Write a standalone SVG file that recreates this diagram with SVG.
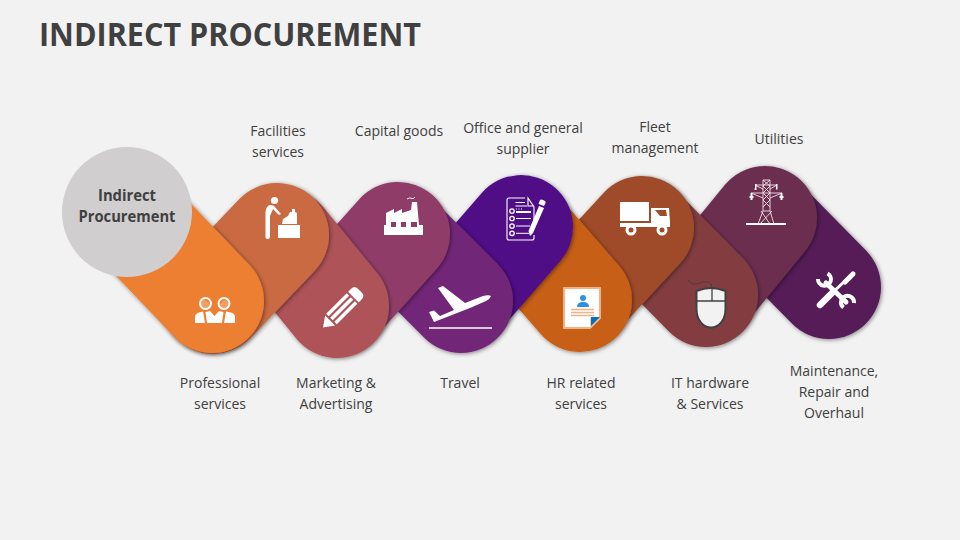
<svg xmlns="http://www.w3.org/2000/svg" width="960" height="540" viewBox="0 0 960 540">
<defs>
<filter id="sh" filterUnits="userSpaceOnUse" x="0" y="0" width="960" height="540"><feDropShadow dx="1" dy="1" stdDeviation="2" flood-color="#000" flood-opacity="0.45"/></filter>
</defs>
<style>
text{font-family:"Open Sans","Liberation Sans",sans-serif;fill:#404040;font-size:14px;text-anchor:middle}
.title{font-size:33px;font-weight:700;text-anchor:start;fill:#404040}
.hub{font-size:16px;font-weight:700}
.pill{fill:none;stroke-width:104;stroke-linecap:round;filter:url(#sh)}
.ic{fill:#fff}
.ln{fill:none;stroke:#fff}
</style>
<rect width="960" height="540" fill="#f2f2f2"/>
<text class="title" x="39" y="46" textLength="382" lengthAdjust="spacingAndGlyphs">INDIRECT PROCUREMENT</text>

<g id="maintenance">
<line class="pill" x1="765" y1="222" x2="829" y2="287" stroke="#551c58"/>
<path class="ln" stroke-width="5" stroke-linecap="round" d="M826 283L846 302"/>
<path class="ln" stroke-width="4" d="M827.500 273.500A6.500 6.500 0 1 1 818 279"/>
<path class="ln" stroke-width="4" d="M843.500 307.500A6.500 6.500 0 1 1 854 303"/>
<path class="ln" stroke-width="6.500" stroke-linecap="round" d="M820 305L832 293"/>
<path class="ln" stroke-width="3" d="M830 295L846 280"/>
<path class="ln" stroke-width="5" stroke-linecap="round" d="M845 282L853 274"/>
<text x="834" y="376">Maintenance,</text><text x="834" y="397">Repair and</text><text x="834" y="418">Overhaul</text>
</g>

<g id="utilities">
<line class="pill" x1="706" y1="290" x2="765" y2="218" stroke="#6c2e50"/>
<path class="ln" stroke-width="1.800" d="M746 224H786"/>
<path fill="none" stroke="#f3dfe6" stroke-width="0.900" d="M763 180H770M763 180V211L758 224M770 180V211L774 224M763 211H770M763 186L770 193L763 200L770 207M770 186L763 193L770 200L763 207M763 180L770 186M770 180L763 186M755 185H777M751 193H782M755 185L763 189M777 185L770 189M751 193L763 198M782 193L770 198M761 211L770 224M772 211L760 224"/>
<path class="ic" d="M755 184h1.500v6h-2v-1.500h.500zM776 184h1.500v5.500h-1.500zM750.500 193h2v3h1v2h-1v2h-2v-2h-1v-2h1zM780.500 193h2v3h1v2h-1v2h-2v-2h-1v-2h1z"/>
<text x="779" y="144">Utilities</text>
</g>

<g id="it-hardware">
<line class="pill" x1="642" y1="230" x2="706" y2="295" stroke="#833d40"/>
<path d="M696.500 291Q711 285 725.500 291V309C725.500 320 719 327.500 711 327.500C703 327.500 696.500 320 696.500 309Z" fill="#f2f2f2" stroke="#404040" stroke-width="2"/>
<path d="M712 288V301M696.500 301H725.500" fill="none" stroke="#404040" stroke-width="1.300"/>
<path d="M688 280Q691 285 697 284Q703 281 708 282Q712 283 712 288" fill="none" stroke="#404040" stroke-width="1"/>
<text x="710" y="388">IT hardware</text><text x="710" y="409">&amp; Services</text>
</g>

<g id="fleet">
<line class="pill" x1="580" y1="295" x2="642" y2="228" stroke="#9f4c2a"/>
<path class="ic" d="M620 202H649V221H620ZM651 208H669L670 222V227H620V223H651Z"/>
<path d="M655 210H666L667 216H660Z" fill="#9f4c2a"/>
<circle class="ic" cx="631" cy="230" r="5.500"/><circle cx="631" cy="230" r="2.500" fill="#9f4c2a"/>
<circle class="ic" cx="662" cy="230" r="5.500"/><circle cx="662" cy="230" r="2.500" fill="#9f4c2a"/>
<text x="655" y="132">Fleet</text><text x="655" y="153">management</text>
</g>

<g id="hr">
<line class="pill" x1="521" y1="232" x2="580" y2="300" stroke="#c75f14"/>
<path d="M564 288H600V318L590 328H564Z" fill="#fff" stroke="#f4b183" stroke-width="2"/>
<path d="M590 328V318H600Z" fill="#f8cbad"/><path d="M591 317H600L591 326Z" fill="#0070c0"/>
<circle cx="583" cy="298" r="3" fill="#2e8fe6"/><path d="M577 307Q577 302 583 302Q589 302 589 307Z" fill="#2e8fe6"/>
<path d="M571 309.500H594M571 312.500H594M571 315.500H594" stroke="#f4b183" stroke-width="1.600" fill="none"/>
<text x="581" y="388">HR related</text><text x="581" y="409">services</text>
</g>

<g id="office">
<line class="pill" x1="461" y1="296" x2="521" y2="227" stroke="#500f86"/>
<path class="ln" stroke-width="1.100" d="M525 198H509Q507 198 507 200V238Q507 240 509 240H532Q534 240 534 238V235M534 224V207L528 198V206H534"/>
<g fill="none" stroke="#fff" stroke-width="1.300"><circle cx="512" cy="211" r="2.200"/><circle cx="512" cy="218.500" r="2.200"/><circle cx="512" cy="226" r="2.200"/><circle cx="512" cy="233.300" r="2.200"/></g>
<path class="ln" stroke-width="1" d="M515.500 202.500H525M515.500 206H527M516 218.500H531M516 226H530M516 233.300H529"/>
<path class="ln" stroke-width="2" d="M516 212H531"/>
<path class="ln" stroke-width="1" stroke-dasharray="1 1.500" d="M516 209H523"/>
<path class="ic" d="M539 206L544 208L533 233L530 236L528.500 231Z"/>
<path class="ic" d="M538.500 204L540 200Q541 199 543 200L545 201Q546 202 545.500 203L544 206Z"/>
<text x="523" y="133">Office and general</text><text x="523" y="154">supplier</text>
</g>

<g id="travel">
<line class="pill" x1="398" y1="238" x2="461" y2="301" stroke="#722878"/>
<path class="ic" d="M491 296Q490 299 486 301L470 308L434 322L433 320L429 312L434 310.500L440 316L454 310L438 288L443 286L465 303L483 296Q489 294.500 491 296Z"/>
<path class="ln" stroke-width="1.500" d="M429 328H492"/>
<text x="460" y="388">Travel</text>
</g>

<g id="capital">
<line class="pill" x1="337" y1="302" x2="398" y2="234" stroke="#8f3c67"/>
<path class="ic" d="M384 235V225H386V213L394 209V213L402 209V213L411 210L412 202H417L419 225H423V235Z"/>
<path d="M391 222H396V227H391ZM401 222H406V227H401ZM411 222H417V227H411Z" fill="#8f3c67"/>
<path class="ln" stroke-width="0.900" d="M407 199Q410 197 412 198.500Q414 199 415 197"/>
<text x="399" y="136">Capital goods</text>
</g>

<g id="marketing">
<line class="pill" x1="283" y1="240" x2="337" y2="306" stroke="#ae5258"/>
<g transform="translate(323 327.500) rotate(-45)">
<path class="ic" d="M0 0L10 -7V7Z"/>
<rect class="ic" x="12" y="-7.500" width="29" height="3.500"/><rect class="ic" x="12" y="-1.800" width="29" height="3.600"/><rect class="ic" x="12" y="4" width="29" height="3.500"/>
<path class="ic" d="M43 -7.500H47Q52 -7.500 52 -3V3Q52 7.500 47 7.500H43Z"/>
</g>
<text x="336" y="388">Marketing &amp;</text><text x="336" y="409">Advertising</text>
</g>

<g id="facilities">
<line class="pill" x1="213" y1="302" x2="277" y2="235" stroke="#c96a42"/>
<circle class="ic" cx="274.500" cy="200.500" r="3.600"/>
<path class="ic" d="M270 205Q266 206 265.500 212V237Q265.500 239 267.500 239Q270 239 270 237V216L273 209L279 215L281 214L274 206Q272 205 270 205Z"/>
<rect class="ic" x="278" y="225" width="22" height="13"/>
<path class="ic" d="M282 224L283 219L288 216L290 212L292 212V209H295V212L297 213V224Z"/>
<text x="278" y="136">Facilities</text><text x="278" y="157">services</text>
</g>

<g id="professional">
<line class="pill" x1="127" y1="212" x2="212" y2="301" stroke="#ed7f33"/>
<circle cx="205.500" cy="303.500" r="5.500" fill="none" stroke="#fff" stroke-width="2"/>
<circle cx="224" cy="303.500" r="5.500" fill="none" stroke="#fff" stroke-width="2"/>
<path class="ic" d="M200 305Q201 299 205.500 300Q208 303 211 304Q210 310 205.500 310Q201 310 200 305ZM218.500 304Q222 303 224 300Q229 300 229.500 305Q228 310 224 310Q219 310 218.500 304Z" opacity="0.250"/>
<path class="ic" d="M195 323V317Q195 313.500 199 312.500L203 311.500L205 323ZM207 323L205.500 312L210 311L214.500 316L219 311L223.500 312L222 323ZM224 323L226 311.500L231 312.500Q235 313.500 235 317V323Z"/>
<text x="220" y="388">Professional</text><text x="220" y="409">services</text>
</g>

<g id="hub">
<circle cx="127" cy="212" r="65" fill="#d0cece"/>
<text class="hub" x="127" y="201" textLength="58" lengthAdjust="spacingAndGlyphs">Indirect</text><text class="hub" x="127" y="222" textLength="97" lengthAdjust="spacingAndGlyphs">Procurement</text>
</g>
</svg>
